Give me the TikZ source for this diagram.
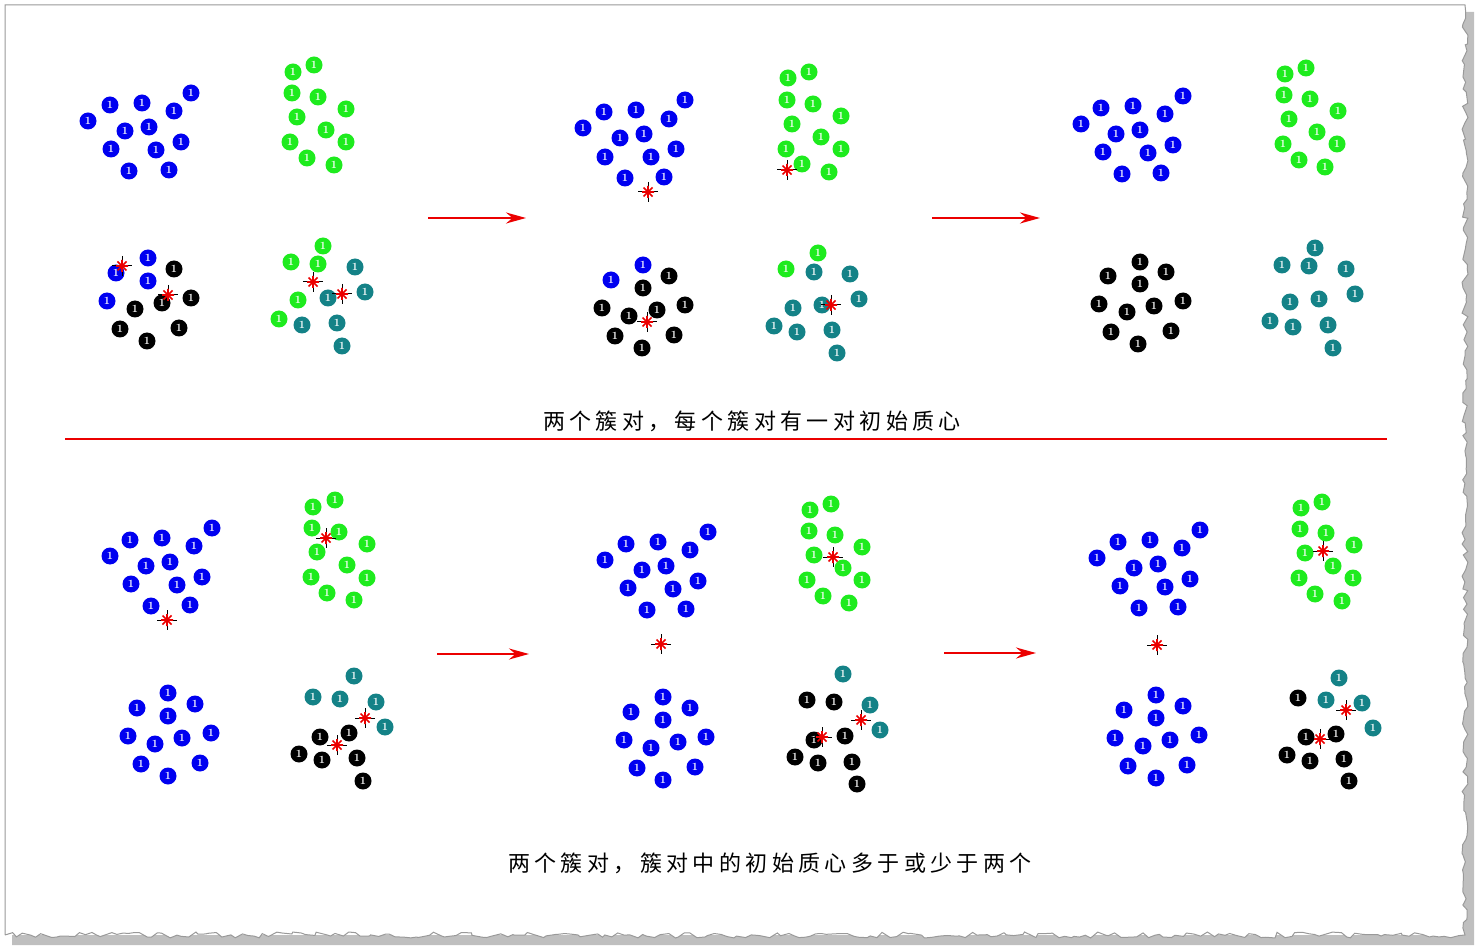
\documentclass[tikz,border=0pt]{standalone}
\usepackage{fontspec}
\newfontfamily\cjk[LetterSpace=20]{Noto Sans CJK SC}
\usetikzlibrary{decorations.pathmorphing,arrows.meta}
\definecolor{cb}{RGB}{0,0,240}
\definecolor{cg}{RGB}{30,235,30}
\definecolor{ct}{RGB}{20,130,135}
\definecolor{cr}{RGB}{235,0,0}
\tikzset{
  dot/.style={circle,inner sep=0pt,minimum size=17pt,text=white,font=\fontsize{11}{11}\selectfont\bfseries},
  arr/.style={draw=cr,line width=2pt,-{Stealth[length=20pt,width=11pt]}},
  captext/.style={font=\cjk\fontsize{22}{22}\selectfont}
}
\newcommand{\pts}[2]{\foreach \a/\b in {#2} \node[dot,fill=#1] at (\a,\b) {1};}
\newcommand{\stars}[1]{\foreach \a/\b in {#1} {
  \draw[black,line width=1pt] (\a-10,\b) -- (\a+10,\b) (\a,\b-10) -- (\a,\b+10);
  \draw[cr,line width=1.6pt] (\a-6,\b) -- (\a+6,\b) (\a,\b-6) -- (\a,\b+6) (\a-4.5,\b-4.5) -- (\a+4.5,\b+4.5) (\a-4.5,\b+4.5) -- (\a+4.5,\b-4.5);}}
\begin{document}
\begin{tikzpicture}[x=1pt,y=-1pt]
\useasboundingbox (0,0) rectangle (1481,949);
\fill[gray!50] (12,945) -- (1474,945) -- (1474,12) -- (1462,12) -- (1462,935) -- (12,935) -- cycle;
\draw[gray!80,line width=1pt,fill=white,decoration={random steps,segment length=6pt,amplitude=3pt}]
  (5,935) -- (5,5) -- (1465,5) decorate{-- (1465,935) -- (5,935)};
% top panel 1
\pts{cb}{191/93,110/105,142/103,174/111,88/121,125/131,149/127,181/142,111/149,156/150,129/171,169/170}
\pts{cg}{293/72,314/65,292/93,318/97,346/109,297/117,326/130,290/142,346/142,307/158,334/165}
\pts{cb}{148/258,116/273,148/281,107/301}
\pts{black}{174/269,191/298,135/309,162/303,120/329,179/328,147/341}
\pts{cg}{323/246,291/262,318/264,298/300,279/319}
\pts{ct}{355/267,365/292,328/298,337/323,302/325,342/346}
\stars{122/266,168/295,313/282,342/294}
\node (a1s) at (428,218) {}; \node (a1e) at (526,218) {};
\draw[arr] (a1s.center) -- (a1e.center);
% top panel 2
\pts{cb}{685/100,604/112,636/110,669/119,583/128,620/138,644/134,676/149,605/157,651/157,625/178,664/177}
\pts{cg}{788/78,809/72,787/100,813/104,841/116,792/124,821/137,786/149,841/149,802/164,829/172}
\pts{cb}{643/265,611/280}
\pts{black}{669/276,643/288,602/308,629/316,657/310,685/305,615/336,674/335,642/348}
\pts{cg}{818/253,786/269}
\pts{ct}{814/272,850/274,859/299,793/308,822/305,774/326,797/332,832/330,837/353}
\stars{648/192,787/170,647/322,831/305}
\node (a2s) at (932,218) {}; \node (a2e) at (1040,218) {};
\draw[arr] (a2s.center) -- (a2e.center);
% top panel 3
\pts{cb}{1183/96,1101/108,1133/106,1165/114,1081/124,1116/134,1140/130,1173/145,1103/152,1148/153,1122/174,1161/173}
\pts{cg}{1285/74,1306/68,1284/95,1310/99,1338/111,1289/119,1317/132,1283/144,1337/144,1299/160,1325/167}
\pts{black}{1140/262,1108/276,1166/272,1140/284,1099/304,1127/312,1154/306,1183/301,1111/332,1171/331,1138/344}
\pts{ct}{1315/248,1282/265,1309/266,1346/269,1355/294,1290/302,1319/299,1270/321,1293/327,1328/325,1333/348}
\node[captext] (c1) at (752,421) {两个簇对，每个簇对有一对初始质心};
\node (l1) at (65,439) {}; \node (l2) at (1387,439) {};
\draw[cr,line width=2.5pt] (l1.center) -- (l2.center);
% bottom panel 1
\pts{cb}{212/528,130/540,162/538,194/546,110/556,146/566,170/562,202/577,131/584,177/585,151/606,190/605}
\pts{cg}{313/507,335/500,312/528,339/532,367/544,317/552,347/565,311/577,367/578,327/593,354/600}
\pts{cb}{168/693,137/708,195/704,168/716,128/736,155/744,182/738,211/733,141/764,200/763,168/776}
\pts{ct}{354/676,313/697,340/699,376/702,385/727}
\pts{black}{349/733,320/737,299/754,322/760,357/758,363/781}
\stars{167/620,326/538,365/718,337/745}
\node (a3s) at (437,654) {}; \node (a3e) at (529,654) {};
\draw[arr] (a3s.center) -- (a3e.center);
% bottom panel 2
\pts{cb}{708/532,626/544,658/542,690/550,605/560,642/570,666/566,698/581,628/588,673/589,647/610,686/609}
\pts{cg}{810/510,831/504,809/531,835/535,862/547,814/555,843/568,807/580,862/580,823/596,849/603}
\pts{cb}{663/697,631/712,690/708,663/720,624/740,651/748,678/742,706/737,637/768,695/767,663/780}
\pts{ct}{843/674,870/705,880/730}
\pts{black}{807/700,834/702,845/736,814/740,795/757,818/763,852/762,857/784}
\stars{661/644,833/557,861/720,822/737}
\node (a4s) at (944,653) {}; \node (a4e) at (1036,653) {};
\draw[arr] (a4s.center) -- (a4e.center);
% bottom panel 3
\pts{cb}{1200/530,1118/542,1150/540,1182/548,1097/558,1134/568,1158/564,1190/579,1120/586,1165/587,1139/608,1178/607}
\pts{cg}{1301/508,1322/502,1300/529,1326/533,1354/545,1305/553,1333/566,1299/578,1353/578,1315/594,1342/601}
\pts{cb}{1156/695,1124/710,1183/706,1156/718,1115/738,1143/746,1170/740,1199/735,1128/766,1187/765,1156/778}
\pts{ct}{1339/678,1326/700,1362/703,1373/728}
\pts{black}{1298/698,1336/734,1306/737,1287/755,1310/761,1344/759,1349/781}
\stars{1157/645,1323/551,1346/710,1320/739}
\node[captext] (c2) at (770,863) {两个簇对，簇对中的初始质心多于或少于两个};
\end{tikzpicture}
\end{document}
